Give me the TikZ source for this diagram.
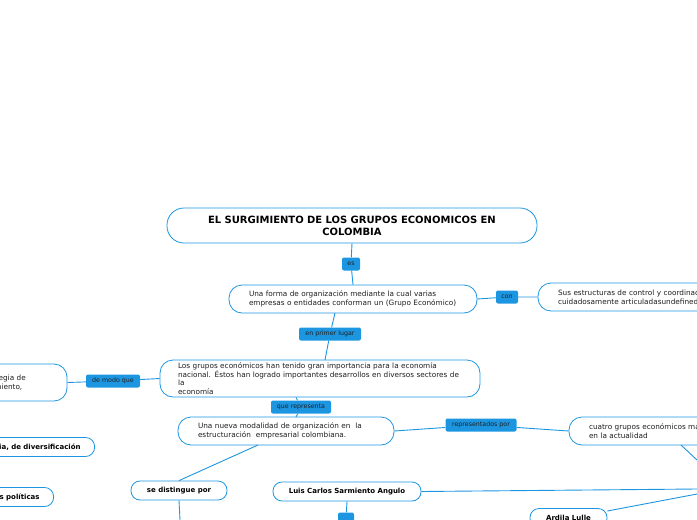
\documentclass[tikz,border=0pt]{standalone}
\usepackage{fontspec}
\setmainfont{DejaVu Sans}
\begin{document}
\begin{tikzpicture}[x=1pt,y=-1pt]
\definecolor{mblue}{RGB}{29,150,226}
\definecolor{mtext}{RGB}{30,30,30}
\tikzset{
 topic/.style={draw=mblue,line width=0.8pt,rounded corners=13pt,fill=white,font=\fontsize{7.3}{8.6}\selectfont,text=mtext,align=left,inner xsep=20pt,inner ysep=0pt,anchor=center},
 boldtopic/.style={draw=mblue,line width=0.8pt,rounded corners=9pt,fill=white,font=\bfseries\fontsize{7}{8.4}\selectfont,text=black,inner xsep=14pt,minimum height=19pt,inner ysep=0pt},
 lab/.style={fill=mblue,rounded corners=2pt,font=\fontsize{6.3}{7}\selectfont,text=mtext,inner xsep=4pt,minimum height=13pt,inner ysep=0pt},
 conn/.style={draw=mblue,line width=0.9pt}
}
\useasboundingbox (0,0) rectangle (697,520);
\clip (0,0) rectangle (697,520);

\node[topic,rounded corners=17pt,font=\bfseries\fontsize{10}{12}\selectfont,text=black,align=center,minimum width=368pt,minimum height=35pt,text width=330pt] (t) at (352,225.5) {EL SURGIMIENTO DE LOS GRUPOS ECONOMICOS EN\\COLOMBIA};

\node[topic,minimum width=248pt,minimum height=28pt,text width=208pt] (n1) at (353,299) {Una forma de organización mediante la cual varias\\empresas o entidades conforman un (Grupo Económico)};
\node[topic,minimum width=260pt,minimum height=28pt,text width=220pt] (n2) at (668,297) {Sus estructuras de control y coordinación\\cuidadosamente articuladasundefined};
\node[topic,inner xsep=18pt,minimum width=320pt,minimum height=37pt,text width=284pt] (n3) at (320,378.5) {Los grupos económicos han tenido gran importancia para la economía\\nacional. Éstos han logrado importantes desarrollos en diversos sectores de la\\economía};
\node[topic,minimum width=110pt,minimum height=37pt,text width=70pt] (n4) at (12,382.5) {Estrategia de\\crecimiento,};
\node[topic,minimum width=216pt,minimum height=28pt,text width=176pt] (n5) at (286,431) {Una nueva modalidad de organización en\ \ la\\estructuración\ \ empresarial colombiana.};
\node[topic,minimum width=240pt,minimum height=28pt,text width=200pt] (n6) at (689,431) {cuatro grupos económicos más importantes\\en la actualidad};

\node[boldtopic,anchor=east,text width=160pt,align=right] (n7) at (95,447) {Estrategia, de diversificación};
\node[boldtopic,anchor=east,text width=100pt,align=right] (n8) at (54,497) {Relaciones políticas};
\node[boldtopic,minimum width=96pt] (sd) at (179,490.5) {se distingue por};
\node[boldtopic,minimum width=148pt] (lc) at (347,491.5) {Luis Carlos Sarmiento Angulo};
\node[boldtopic,minimum width=77pt] (al) at (568.5,518) {Ardila Lulle};
\coordinate (rr) at (697,489);

\node[lab,minimum width=18pt] (l1) at (351,264) {es};
\node[lab,minimum width=22pt] (l2) at (507,297) {con};
\node[lab,minimum width=62pt] (l3) at (330,334) {en primer lugar};
\node[lab,minimum width=54pt] (l4) at (113,381) {de modo que};
\node[lab,minimum width=60pt] (l5) at (301,407) {que representa};
\node[lab,minimum width=71pt] (l6) at (481,425) {representados por};
\node[lab,minimum width=16pt] (l7) at (346,519) {};

\draw[conn] (t.south) -- (l1) -- (n1.north);
\draw[conn] (n1.east) -- (l2) -- (n2.west);
\draw[conn] (335,313) -- (l3) -- (325,360);
\draw[conn] (n3.west) -- (l4) -- (n4.east);
\draw[conn] (n3.south -| 296,0) -- (l5) -- (296,417);
\draw[conn] (n5.east) -- (l6) -- (n6.west);
\draw[conn] (258,445) -- (sd.north);
\draw[conn] (sd.south) -- (180,520);
\draw[conn] (681,445) -- (697,460);
\draw[conn] (lc.east) -- (rr);
\draw[conn] (al.east |- 0,511) -- (697,494);
\draw[conn] (lc.south) -- (l7);
\end{tikzpicture}
\end{document}
